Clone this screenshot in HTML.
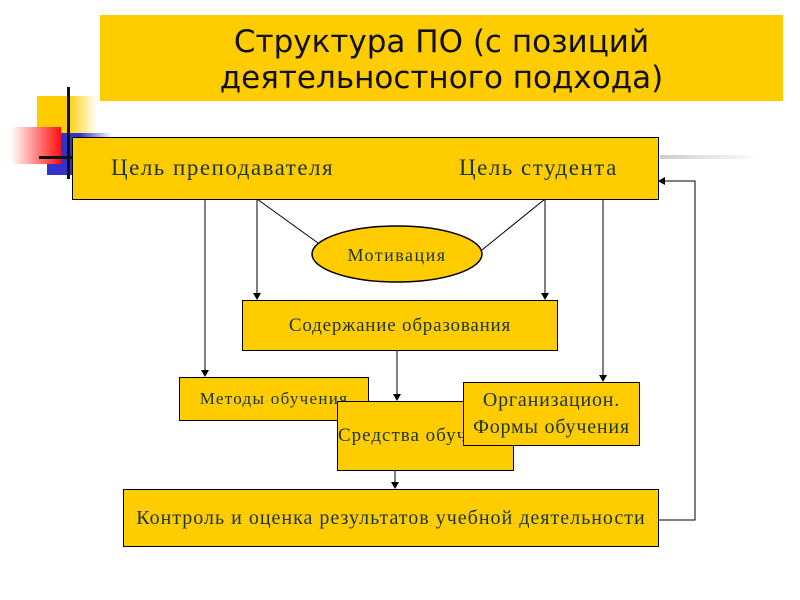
<!DOCTYPE html>
<html><head><meta charset="utf-8"><style>
body{margin:0;width:800px;height:600px;background:#fff;position:relative;overflow:hidden;font-family:"Liberation Serif",serif;}
.a{position:absolute;}
.b{position:absolute;background:#ffcc00;border:1.5px solid #000;box-sizing:border-box;display:flex;align-items:center;justify-content:center;text-align:center;color:#1a3535;white-space:nowrap;}
</style></head><body>
<div class="a" style="left:100px;top:15px;width:683px;height:86px;background:#ffcc00;"></div>
<div class="a" style="left:100px;top:24px;width:683px;text-align:center;font-family:'DejaVu Sans',sans-serif;font-size:31px;line-height:36px;color:#111;">Структура ПО (с позиций<br>деятельностного подхода)</div>
<div class="a" style="left:37px;top:96px;width:60px;height:38px;background:linear-gradient(to right,#ffcc00 50%,#fff);"></div>
<div class="a" style="left:47px;top:133px;width:65px;height:42px;background:linear-gradient(to right,#3333cc 50%,#fff);"></div>
<div class="a" style="left:11px;top:127px;width:50px;height:37px;background:linear-gradient(to left,#ff1010,#fff);"></div>
<div class="a" style="left:660px;top:155px;width:100px;height:4px;background:linear-gradient(to right,#ccc,#fff);"></div>
<div class="a" style="left:67px;top:87px;width:3px;height:92px;background:#111;"></div>
<div class="a" style="left:39px;top:156px;width:34px;height:3px;background:#111;"></div>
<svg class="a" style="left:0;top:0" width="800" height="600">
<defs><marker id="m" markerWidth="8" markerHeight="8" refX="6" refY="4" orient="auto" markerUnits="userSpaceOnUse"><path d="M0,0 L7,4 L0,8z" fill="#000"/></marker></defs>
<g stroke="#000" stroke-width="1" fill="none">
<line x1="205" y1="199" x2="205" y2="376" marker-end="url(#m)"/>
<line x1="257" y1="199" x2="257" y2="299" marker-end="url(#m)"/>
<line x1="545" y1="199" x2="545" y2="299" marker-end="url(#m)"/>
<line x1="603" y1="199" x2="603" y2="381" marker-end="url(#m)"/>
<line x1="257" y1="199" x2="318" y2="243"/>
<line x1="545" y1="199" x2="482" y2="250"/>
<line x1="397" y1="350" x2="397" y2="400" marker-end="url(#m)"/>
<line x1="395" y1="470" x2="395" y2="488" marker-end="url(#m)"/>
<polyline points="658,520 695,520 695,181 659,181" marker-end="url(#m)"/>
</g>
<ellipse cx="397" cy="254" rx="85" ry="28" fill="#ffcc00" stroke="#000" stroke-width="1.5"/>
<text x="397" y="261" text-anchor="middle" font-family="Liberation Serif" font-size="18" letter-spacing="1.5" fill="#1a3535">Мотивация</text>
</svg>
<div class="b" style="left:72px;top:137px;width:587px;height:63px;font-size:23px;letter-spacing:1.5px;justify-content:flex-start;"><span class="a" style="left:38px;top:17px">Цель преподавателя</span><span class="a" style="left:386px;top:17px">Цель студента</span></div>
<div class="b" style="left:242px;top:300px;width:316px;height:51px;font-size:19px;letter-spacing:0.8px;">Содержание образования</div>
<div class="b" style="left:179px;top:377px;width:190px;height:44px;font-size:17px;letter-spacing:1.3px;">Методы обучения</div>
<div class="b" style="left:337px;top:401px;width:177px;height:70px;font-size:19px;letter-spacing:1px;justify-content:flex-start;">Средства обучения</div>
<div class="b" style="left:463px;top:382px;width:177px;height:64px;font-size:20px;letter-spacing:0.8px;line-height:27px;">Организацион.<br>Формы обучения</div>
<div class="b" style="left:123px;top:489px;width:536px;height:58px;font-size:20px;letter-spacing:1px;">Контроль и оценка результатов учебной деятельности</div>
</body></html>
